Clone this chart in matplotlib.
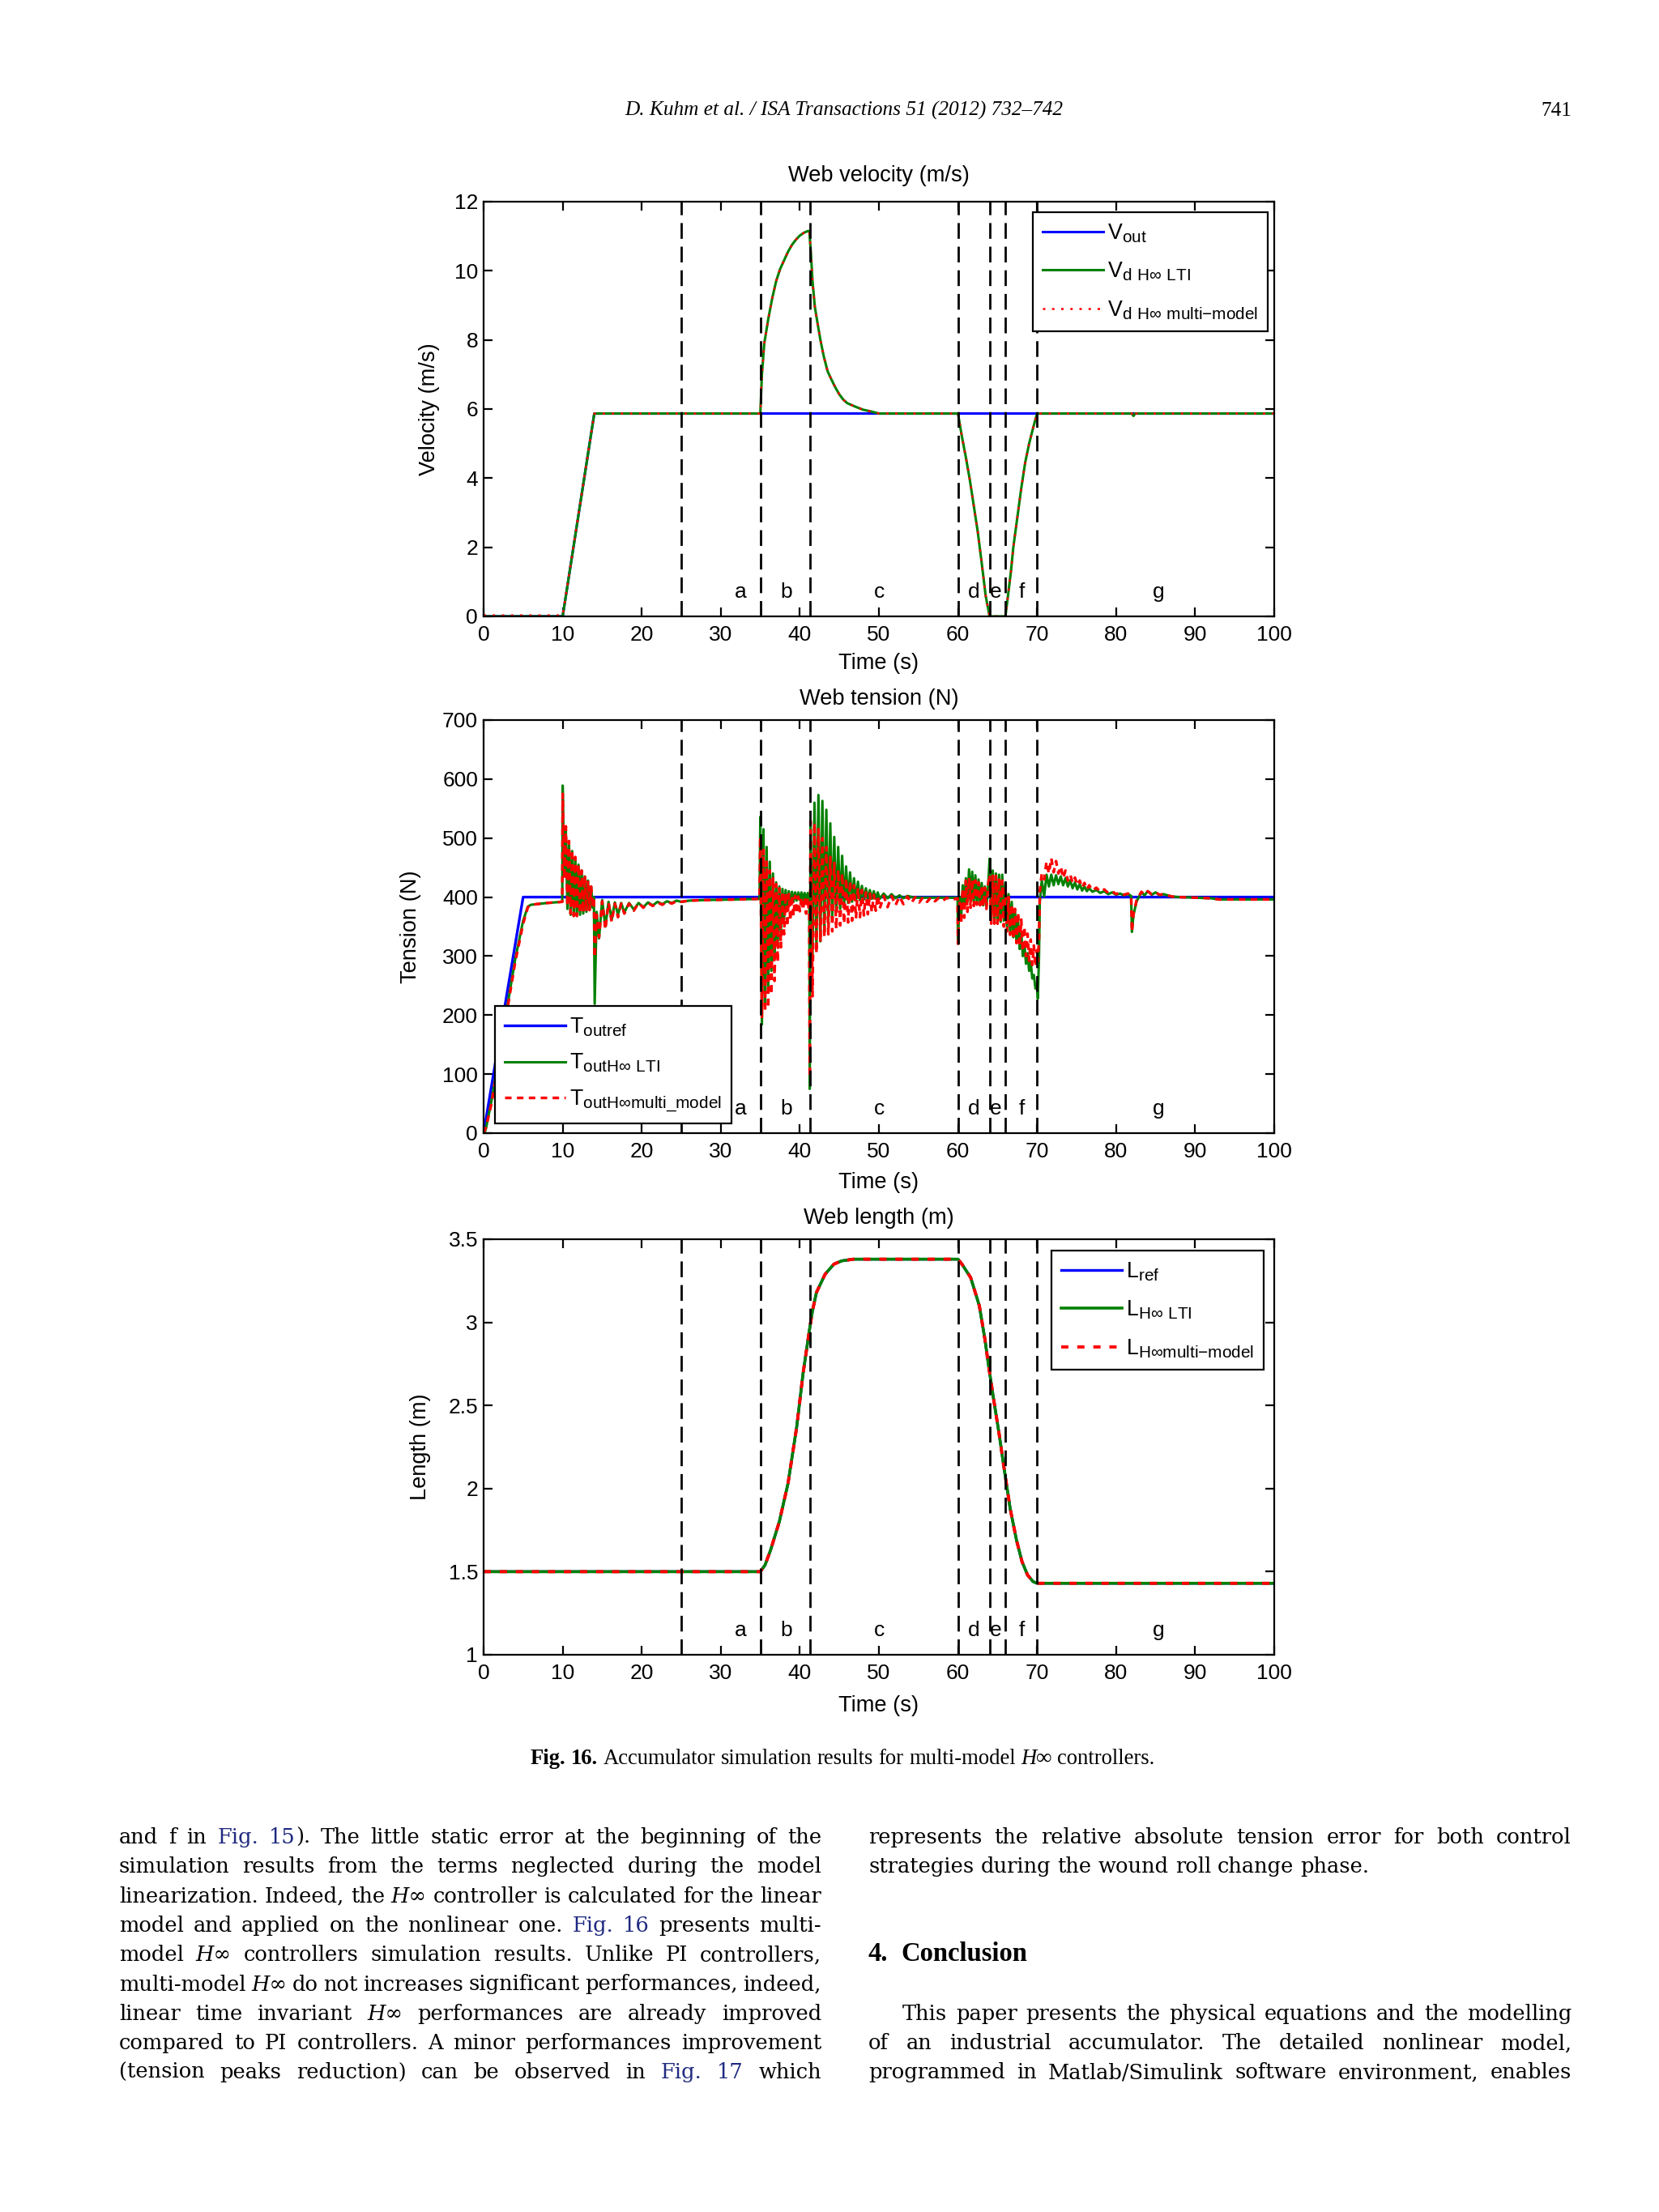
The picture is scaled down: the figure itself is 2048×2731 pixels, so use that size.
import re
import numpy as np
import matplotlib
matplotlib.use("Agg")
import matplotlib.pyplot as plt
from matplotlib.ticker import FormatStrFormatter

try:
    import matplotlib._mathtext as _mt
    _mt.SHRINK_FACTOR = 0.78
except Exception:
    pass

plt.rcParams['font.family'] = ['Liberation Sans', 'DejaVu Sans']
plt.rcParams['mathtext.default'] = 'regular'
plt.rcParams['axes.linewidth'] = 0.8

# ---------------------------------------------------------------- data
time_ticks = list(range(0, 101, 10))
phase_bounds = [25, 35, 41.25, 60, 64, 66, 70]
phase_labels = ['a', 'b', 'c', 'd', 'e', 'f', 'g']
phase_label_t = [32.5, 38.3, 50.0, 62.0, 64.8, 68.1, 85.4]

# --- web velocity (m/s)
vout_t = [0, 10, 14, 100]
vout_v = [0, 0, 5.87, 5.87]
vd_t = [0, 10, 14, 35, 35.2, 35.5, 36, 36.5, 37, 37.5,
        38, 38.5, 39, 39.5, 40, 40.5, 41, 41.2,
        41.4, 41.6, 41.9, 42.3, 42.6, 43, 43.5, 44, 44.5, 45,
        45.5, 46, 47, 48, 49, 50,
        60, 60.2, 60.5, 61, 61.5, 62, 62.5, 63, 63.5, 64,
        66, 66.3, 66.7, 67, 67.5, 68, 68.5, 69, 69.5, 70,
        82, 82.2, 82.4, 100]
vd_lti = [0, 0, 5.87, 5.87, 7.0, 7.9, 8.6, 9.2, 9.7, 10.05,
          10.3, 10.55, 10.75, 10.9, 11.02, 11.1, 11.15, 11.15,
          10.5, 9.7, 8.95, 8.4, 8.0, 7.55, 7.1, 6.85, 6.62, 6.42,
          6.27, 6.17, 6.07, 5.98, 5.93, 5.87,
          5.87, 5.6, 5.2, 4.6, 3.95, 3.2, 2.45, 1.55, 0.6, 0.0,
          0.0, 0.55, 1.3, 2.0, 2.85, 3.7, 4.45, 5.0, 5.45, 5.87,
          5.87, 5.8, 5.87, 5.87]
vd_mm = [0.03, 0.03, 5.87, 5.87, 7.0, 7.9, 8.6, 9.2, 9.7, 10.05,
         10.3, 10.55, 10.75, 10.9, 11.02, 11.1, 11.15, 11.15,
         10.5, 9.7, 8.95, 8.4, 8.0, 7.55, 7.1, 6.85, 6.62, 6.42,
         6.27, 6.17, 6.07, 5.98, 5.93, 5.87,
         5.87, 5.6, 5.2, 4.6, 3.95, 3.2, 2.45, 1.55, 0.6, 0.0,
         0.0, 0.55, 1.3, 2.0, 2.85, 3.7, 4.45, 5.0, 5.45, 5.87,
         5.87, 5.77, 5.87, 5.87]

# --- web tension (N)
tref_t = [0, 5, 100]
tref_v = [0, 400, 400]

ramp_t = [0, 0.3, 1, 2, 3, 4, 5, 5.6, 6, 8, 9.95]
T_lti_ramp = [-5, 8, 55, 135, 215, 295, 360, 384, 387, 390, 392]
T_mm_ramp = [0, 10, 50, 130, 210, 290, 355, 383, 387, 390, 392]

# oscillation after t = 10 s (samples every 0.2 s from 10.0 s)
T_lti_osc10 = [589, 440, 515, 380, 490, 370, 478, 368, 465, 368,
               455, 370, 445, 372, 435, 375, 428, 378, 418, 382]
T_mm_osc10 = [575, 430, 520, 385, 495, 372, 480, 368, 468, 368,
              455, 372, 445, 374, 436, 376, 428, 378, 418, 382]

settle14_t = [13.95, 14.05, 14.3, 14.6, 15.0, 15.4, 15.8, 16.2, 16.6, 17.0,
              17.4, 17.8, 18.4, 19.0, 19.6, 20.2, 20.8, 21.4, 22.0, 22.6,
              23.2, 23.8, 24.4, 25.0, 26, 28, 30, 32, 34.9]
T_lti_settle14 = [400, 219, 375, 330, 395, 350, 392, 362, 391, 370,
                  390, 374, 390, 379, 390, 383, 391, 386, 392, 388,
                  393, 390, 394, 392, 394, 395, 395.5, 396, 397]
T_mm_settle14 = [400, 298, 370, 332, 393, 345, 390, 358, 389, 366,
                 389, 372, 389, 377, 390, 382, 390, 385, 391, 387,
                 392, 389, 393, 392, 394, 395, 395.5, 396, 397]

# oscillation in phase b (samples every 0.2 s from 35.0 s)
T_lti_osc35 = [536, 184, 515, 215, 485, 245, 460, 275, 440, 295,
               425, 318, 418, 340, 414, 362, 412, 378, 410, 388,
               409, 392, 408, 394, 408, 395, 408, 396, 407, 396,
               407, 396]
T_mm_osc35 = [502, 197, 480, 205, 460, 212, 445, 235, 432, 258,
              422, 290, 415, 315, 410, 337, 407, 350, 405, 360,
              403, 368, 402, 372, 401, 376, 400, 378, 400, 372,
              399, 368]
dip41_t = [41.25]
T_lti_dip41 = [75]
T_mm_dip41 = [95]

# oscillation in phase c (samples every 0.25 s from 41.35 s)
T_lti_osc41 = [525, 300, 560, 315, 573, 325, 563, 340, 548, 355,
               525, 365, 502, 375, 485, 380, 470, 386, 452, 390,
               442, 392, 432, 394, 426, 395, 419, 396, 415, 397,
               412, 397, 410, 397, 408, 397]
T_mm_osc41 = [529, 232, 526, 305, 515, 324, 500, 333, 485, 337,
              468, 342, 458, 346, 446, 352, 440, 355, 432, 357,
              427, 360, 420, 364, 416, 366, 412, 369, 408, 371,
              406, 374, 404, 377, 403, 380]

lti_tail50_t = [50.6, 51.1, 51.6, 52.1, 52.6, 53.1, 53.6, 54.5, 56, 58, 59.95]
T_lti_tail50 = [406, 398, 405, 398, 403, 398, 402, 399, 399, 399, 399]
# multi-model tail (samples every 0.5 s from 50.6 s)
T_mm_tail50 = [402, 383, 402, 386, 401, 388, 401, 390, 400, 391,
               400, 392, 400, 393, 399, 394, 399, 395]
mm_end60_t = [59.95]
T_mm_end60 = [398]

# phases d-e-f (samples every 0.2 s from 60.0 s)
T_lti_osc60 = [321, 400, 365, 420, 385, 432, 392, 447, 393, 443,
               392, 437, 390, 430, 388, 424, 386, 418, 384, 415,
               465, 365, 445, 358, 440, 355, 438, 358, 438, 360,
               425, 350, 405, 340, 392, 332, 380, 324, 362, 312,
               340, 300, 322, 287, 305, 275, 290, 262, 268, 245,
               250]
T_mm_osc60 = [321, 395, 355, 415, 365, 428, 375, 433, 382, 430,
              385, 428, 387, 425, 386, 420, 384, 416, 380, 420,
              438, 355, 436, 355, 436, 355, 432, 355, 428, 350,
              415, 342, 400, 336, 388, 328, 380, 322, 374, 316,
              362, 308, 350, 300, 338, 292, 328, 285, 318, 282,
              310]
jump70_t = [70.1, 70.25, 70.35]
T_lti_jump70 = [228, 300, 392]
T_mm_jump70 = [291, 330, 410]

# phase g oscillation (samples every 0.3 s from 70.6 s)
T_lti_osc70 = [428, 401, 438, 418, 438, 420, 437, 422, 435, 420,
               432, 418, 428, 415, 425, 413, 422, 411, 418, 410]
T_mm_osc70 = [440, 430, 460, 440, 466, 442, 461, 440, 452, 432,
              445, 428, 438, 424, 433, 420, 428, 416, 424, 413]

end_t = [76.6, 77.0, 77.5, 78.0, 78.5, 79.0, 79.5, 80.0, 80.5, 81.0,
         81.5, 81.9, 82.0, 82.2, 82.6, 83.2, 83.6, 84.0, 84.5, 85.0,
         85.5, 86.0, 87, 88, 90, 92, 93, 100]
T_lti_end = [415, 409, 412, 407, 410, 405, 408, 404, 406, 403,
             405, 402, 341, 370, 393, 408, 403, 410, 404, 408,
             403, 405, 401, 400, 399, 398, 396, 396]
T_mm_end = [420, 411, 416, 409, 413, 407, 410, 405, 408, 404,
            406, 403, 341, 372, 395, 409, 404, 410, 405, 408,
            404, 405, 401, 400, 399, 398, 396, 396]

# --- web length (m)
len_t = [0, 35, 35.6, 36.3, 37.4, 38.5, 39.6, 40.4, 41.2, 41.6,
         42.1, 43.2, 44.3, 45.3, 46.8, 60, 60.5, 61.6, 62.7, 63.4,
         63.9, 64.5, 65.2, 65.9, 66.6, 67.4, 68.1, 68.8, 69.5, 70, 100]
len_ref = [1.5, 1.5, 1.54, 1.63, 1.80, 2.03, 2.37, 2.69, 2.95, 3.07,
           3.18, 3.29, 3.35, 3.37, 3.38, 3.38, 3.35, 3.27, 3.10, 2.90,
           2.73, 2.54, 2.33, 2.10, 1.88, 1.69, 1.56, 1.48, 1.44, 1.43, 1.43]
len_lti = [1.5, 1.5, 1.54, 1.63, 1.80, 2.03, 2.37, 2.69, 2.95, 3.07,
           3.18, 3.29, 3.35, 3.37, 3.38, 3.38, 3.35, 3.27, 3.10, 2.90,
           2.73, 2.54, 2.33, 2.10, 1.88, 1.69, 1.56, 1.48, 1.44, 1.43, 1.43]
len_mm = [1.5, 1.5, 1.54, 1.63, 1.80, 2.03, 2.37, 2.69, 2.95, 3.07,
          3.18, 3.29, 3.35, 3.37, 3.38, 3.38, 3.35, 3.27, 3.10, 2.90,
          2.73, 2.54, 2.33, 2.10, 1.88, 1.69, 1.56, 1.48, 1.44, 1.43, 1.43]

vel_labels = [r'$V_{out}$', r'$V_{d\ H∞\ LTI}$', r'$V_{d\ H∞\ multi{-}model}$']
ten_labels = [r'$T_{outref}$', r'$T_{outH∞\ LTI}$', r'$T_{outH∞multi\_model}$']
len_labels = [r'$L_{ref}$', r'$L_{H∞\ LTI}$', r'$L_{H∞multi{-}model}$']

header_text = 'D. Kuhm et al. / ISA Transactions 51 (2012) 732–742'
page_number = '741'
caption_text = '{Fig.} {16.} Accumulator simulation results for multi-model <H∞> controllers.'
left_column = [
    'and f in [Fig.] [15]). The little static error at the beginning of the',
    'simulation results from the terms neglected during the model',
    'linearization. Indeed, the <H∞> controller is calculated for the linear',
    'model and applied on the nonlinear one. [Fig.] [16] presents multi-',
    'model <H∞> controllers simulation results. Unlike PI controllers,',
    'multi-model <H∞> do not increases significant performances, indeed,',
    'linear time invariant <H∞> performances are already improved',
    'compared to PI controllers. A minor performances improvement',
    '(tension peaks reduction) can be observed in [Fig.] [17] which',
]
right_column = [  # (line index, text, justified, indent px)
    (0, 'represents the relative absolute tension error for both control', True, 0),
    (1, 'strategies during the wound roll change phase.', False, 0),
    (6, 'This paper presents the physical equations and the modelling', True, 42),
    (7, 'of an industrial accumulator. The detailed nonlinear model,', True, 0),
    (8, 'programmed in Matlab/Simulink software environment, enables', True, 0),
]
heading_text = '{4.}  {Conclusion}'


def grid(t0, step, values):
    return t0 + step * np.arange(len(values))


tension_t_lti = np.concatenate([ramp_t, grid(10.0, 0.2, T_lti_osc10), settle14_t,
                                grid(35.0, 0.2, T_lti_osc35), dip41_t,
                                grid(41.35, 0.25, T_lti_osc41), lti_tail50_t,
                                grid(60.0, 0.2, T_lti_osc60), jump70_t,
                                grid(70.6, 0.3, T_lti_osc70), end_t])
tension_v_lti = np.concatenate([T_lti_ramp, T_lti_osc10, T_lti_settle14, T_lti_osc35,
                                T_lti_dip41, T_lti_osc41, T_lti_tail50, T_lti_osc60,
                                T_lti_jump70, T_lti_osc70, T_lti_end])
tension_t_mm = np.concatenate([ramp_t, grid(10.0, 0.2, T_mm_osc10), settle14_t,
                               grid(35.0, 0.2, T_mm_osc35), dip41_t,
                               grid(41.35, 0.25, T_mm_osc41), grid(50.6, 0.5, T_mm_tail50),
                               mm_end60_t, grid(60.0, 0.2, T_mm_osc60), jump70_t,
                               grid(70.6, 0.3, T_mm_osc70), end_t])
tension_v_mm = np.concatenate([T_mm_ramp, T_mm_osc10, T_mm_settle14, T_mm_osc35,
                               T_mm_dip41, T_mm_osc41, T_mm_tail50, T_mm_end60,
                               T_mm_osc60, T_mm_jump70, T_mm_osc70, T_mm_end])

# ---------------------------------------------------------------- figure
W, H = 2048, 2731
fig = plt.figure(figsize=(W / 200, H / 200), dpi=200)
fig.patch.set_facecolor('white')

BLUE, GREEN, RED = '#0000ff', '#008000', '#ff0000'


def rect(x0, y0, x1, y1):
    return [x0 / W, 1 - y1 / H, (x1 - x0) / W, (y1 - y0) / H]


def style_axes(ax, ylim, yticks, ylabel, title, ylab_x, title_off, xlab_off):
    ax.set_xlim(0, 100)
    ax.set_xticks(time_ticks)
    ax.set_ylim(*ylim)
    ax.set_yticks(yticks)
    ax.yaxis.set_major_formatter(FormatStrFormatter('%g'))
    ax.tick_params(direction='in', top=True, right=True, length=3.8, width=0.8,
                   labelsize=9.5)
    ax.tick_params(axis='x', pad=4)
    ax.tick_params(axis='y', pad=2.5)
    ax.set_ylabel(ylabel, fontsize=9.8, va='center')
    ax.yaxis.set_label_coords(ylab_x, 0.5)
    ax.set_xlabel('Time (s)', fontsize=9.8, va='center')
    ax.xaxis.set_label_coords(0.5, -xlab_off)
    ax.text(0.5, 1 + title_off, title, transform=ax.transAxes, ha='center',
            va='center', fontsize=9.8)
    for b in phase_bounds:
        ax.axvline(b, color='black', lw=1.0, dashes=(7.0, 3.5), zorder=4)
    for lab, t in zip(phase_labels, phase_label_t):
        ax.text(t, 0.045, lab, transform=ax.get_xaxis_transform(), ha='center',
                va='baseline', fontsize=9.5)


def legend(ax, labels, loc, anchor, spacing):
    leg = ax.legend(labels=labels, handles=ax.lines[:3], loc=loc, bbox_to_anchor=anchor,
                    bbox_transform=ax.transAxes, borderaxespad=0, fancybox=False,
                    framealpha=1, edgecolor='black', fontsize=9.6, handlelength=2.8,
                    handletextpad=0.2, borderpad=0.45, labelspacing=spacing)
    leg.get_frame().set_linewidth(0.8)
    leg.set_zorder(6)


# --- velocity
ax1 = fig.add_axes(rect(597, 249, 1573, 761))
ax1.plot(vout_t, vout_v, color=BLUE, lw=1.1)
ax1.plot(vd_t, vd_lti, color=GREEN, lw=1.1)
ax1.plot(vd_t, vd_mm, color=RED, lw=0.9, dashes=(1.2, 3.3))
style_axes(ax1, (0, 12), np.arange(0, 13, 2), 'Velocity (m/s)', 'Web velocity (m/s)',
           -0.0686, 0.0625, 0.113)
legend(ax1, vel_labels, 'upper right', (0.9918, 0.9746), 0.75)

# --- tension
ax2 = fig.add_axes(rect(597, 889, 1573, 1399))
ax2.plot(tref_t, tref_v, color=BLUE, lw=1.2)
ax2.plot(tension_t_lti, tension_v_lti, color=GREEN, lw=1.1)
ax2.plot(tension_t_mm, tension_v_mm, color=RED, lw=1.2, dashes=(2.4, 2.0))
style_axes(ax2, (0, 700), np.arange(0, 701, 100), 'Tension (N)', 'Web tension (N)',
           -0.0922, 0.051, 0.12)
legend(ax2, ten_labels, 'lower left', (0.0143, 0.0235), 0.65)

# --- length
ax3 = fig.add_axes(rect(597, 1530, 1573, 2043))
ax3.plot(len_t, len_ref, color=BLUE, lw=1.2)
ax3.plot(len_t, len_lti, color=GREEN, lw=1.3)
ax3.plot(len_t, len_mm, color=RED, lw=1.4, dashes=(2.3, 2.8))
style_axes(ax3, (1, 3.5), np.arange(1, 3.51, 0.5), 'Length (m)', 'Web length (m)',
           -0.0799, 0.0507, 0.123)
legend(ax3, len_labels, 'upper right', (0.9867, 0.9727), 0.75)

# ---------------------------------------------------------------- page text
BODY = ['DejaVu Serif', 'Liberation Serif']
NARROW = ['Liberation Serif', 'DejaVu Serif']
LINK = '#1f2a80'
renderer = fig.canvas.get_renderer()
_cache = {}


def tw(s, size, sty, fam):
    key = (s, round(size, 4), tuple(sorted(sty.items())), tuple(fam))
    if key not in _cache:
        t = fig.text(0, 0, s, fontsize=size, family=fam, **sty)
        _cache[key] = t.get_window_extent(renderer).width
        t.remove()
    return _cache[key]


def parse_word(w):
    segs = []
    for m in re.finditer(r'\[([^\]]*)\]|<([^>]*)>|\{([^}]*)\}|([^\[<{]+)', w):
        if m.group(1) is not None:
            segs.append((m.group(1), {'color': LINK}))
        elif m.group(2) is not None:
            segs.append((m.group(2), {'style': 'italic'}))
        elif m.group(3) is not None:
            segs.append((m.group(3), {'weight': 'bold'}))
        else:
            segs.append((m.group(4), {}))
    return segs


def measure(line, size, fam=BODY):
    words = [parse_word(w) for w in line.split()]
    widths = [[tw(s, size, sty, fam) for s, sty in segs] for segs in words]
    return words, widths


def space_w(size, fam=BODY):
    return tw('n n', size, {}, fam) - tw('nn', size, {}, fam)


def draw_words(words, widths, x, y, size, gap, fam=BODY):
    for segs, ws in zip(words, widths):
        for (s, sty), w in zip(segs, ws):
            fig.text(x / W, 1 - y / H, s, fontsize=size, family=fam, va='baseline',
                     ha='left', color=sty.get('color', 'black'),
                     style=sty.get('style', 'normal'), weight=sty.get('weight', 'normal'))
            x += w
        x += gap


def draw_line(line, x0, x1, y, size, justify=True, indent=0):
    words, widths = measure(line, size)
    totals = sum(sum(ws) for ws in widths)
    sp = space_w(size)
    if justify and len(words) > 1:
        gap = (x1 - x0 - indent - totals) / (len(words) - 1)
    else:
        gap = sp
    draw_words(words, widths, x0 + indent, y, size, gap)


LX0, LX1 = 147, 1014
RX0, RX1 = 1072, 1940
BASE0, LEAD = 2276, 36.3

body_size = 10.0
sp = space_w(body_size)
worst = 0
for line in left_column + [r[1] for r in right_column if r[2]]:
    words, widths = measure(line, body_size)
    need = sum(sum(ws) for ws in widths) + (len(words) - 1) * 0.85 * sp
    worst = max(worst, need / (LX1 - LX0))
if worst > 1:
    body_size /= worst

for i, line in enumerate(left_column):
    draw_line(line, LX0, LX1, BASE0 + i * LEAD, body_size, True)
for i, line, just, ind in right_column:
    draw_line(line, RX0, RX1, BASE0 + i * LEAD, body_size, just, ind)

# section heading
hw, hwid = measure(heading_text, 10, NARROW)
hsize = 10 * 197 / (sum(sum(w) for w in hwid) + 2 * space_w(10, NARROW))
hw, hwid = measure(heading_text, hsize, NARROW)
draw_words(hw, hwid, RX0, BASE0 + 4 * LEAD, hsize, 2 * space_w(hsize, NARROW), NARROW)

# caption
cw, cwid = measure(caption_text, 10, NARROW)
ctot = sum(sum(w) for w in cwid) + (len(cw) - 1) * space_w(10, NARROW)
csize = 10 * 774 / ctot
cw, cwid = measure(caption_text, csize, NARROW)
ctot = sum(sum(w) for w in cwid) + (len(cw) - 1) * space_w(csize, NARROW)
draw_words(cw, cwid, 1040 - ctot / 2, 2178, csize, space_w(csize, NARROW), NARROW)

# running header
hdr_w = tw(header_text, 10, {'style': 'italic'}, NARROW)
hdr_size = 10 * 541 / hdr_w
fig.text(1042 / W, 1 - 143 / H, header_text, fontsize=hdr_size, family=NARROW,
         style='italic', ha='center', va='baseline')
fig.text(1940 / W, 1 - 143 / H, page_number, fontsize=hdr_size, family=NARROW,
         ha='right', va='baseline')

fig.savefig('out.png', dpi=200, facecolor='white')
